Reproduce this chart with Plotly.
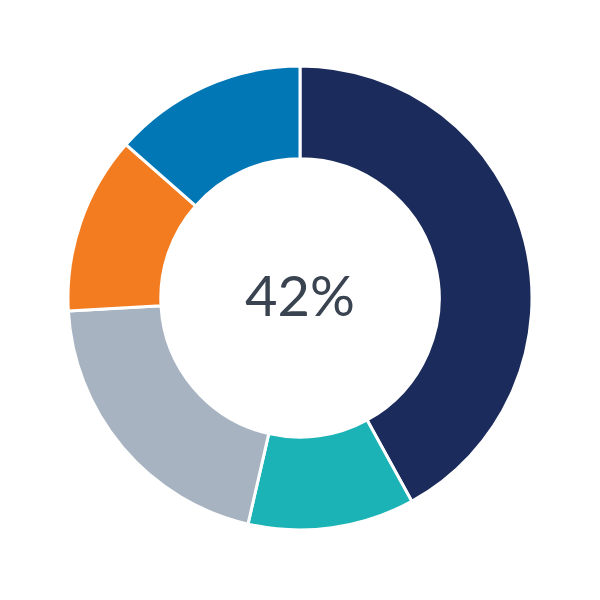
import plotly.graph_objects as go

labels = ['A', 'B', 'C', 'D', 'E']
values = [42, 11.6, 20.5, 12.4, 13.5]
colors = ['#1b2b5b', '#1bb3b6', '#a8b3c2', '#f47c20', '#0277b6']
center_text = '42%'

fig = go.Figure()
fig.add_trace(go.Pie(labels=labels, values=values, hole=0.6, sort=False, direction='clockwise',
                     rotation=0, textinfo='none', hoverinfo='none',
                     marker=dict(colors=colors, line=dict(color='white', width=3))))
fig.add_annotation(text=center_text, x=0.5, y=0.5, xref='paper', yref='paper', showarrow=False,
                   yshift=4, font=dict(family='Lato', size=56, color='#3a4350'))
fig.update_layout(width=600, height=600, showlegend=False, paper_bgcolor='white',
                  margin=dict(l=60, r=76, t=58, b=78))
fig.write_html('out.html')
